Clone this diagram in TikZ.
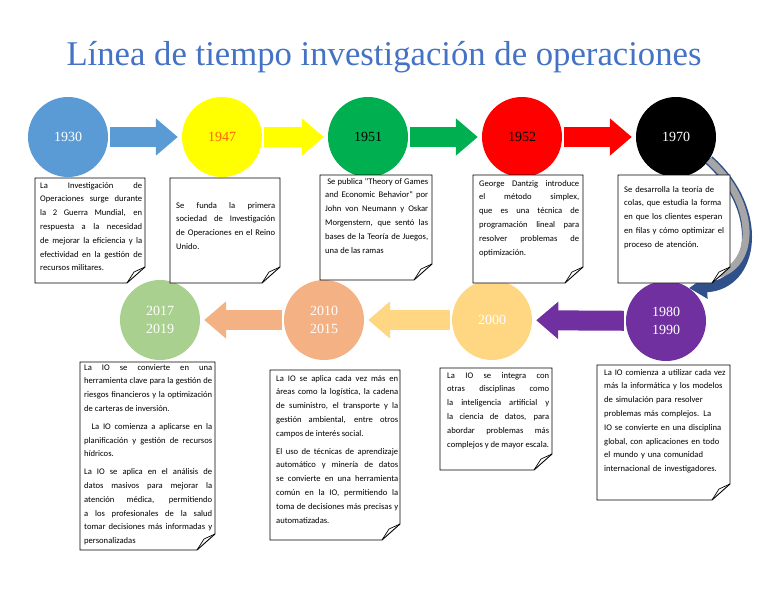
\documentclass[tikz,border=0pt]{standalone}
\usepackage{fontspec}
\setmainfont{Liberation Serif}
\newfontfamily\notefont{Carlito}
\usetikzlibrary{arrows.meta,calc}
\hyphenpenalty=10000
\exhyphenpenalty=10000
\definecolor{cblue}{RGB}{91,155,213}
\definecolor{cyel}{RGB}{255,255,0}
\definecolor{cgreen}{RGB}{0,176,80}
\definecolor{cred}{RGB}{255,0,0}
\definecolor{cpurp}{RGB}{112,48,160}
\definecolor{cpale}{RGB}{255,215,130}
\definecolor{csalm}{RGB}{244,177,131}
\definecolor{clgreen}{RGB}{169,208,142}
\definecolor{ctitle}{RGB}{68,114,196}
\tikzset{
 yr/.style={circle,minimum size=80pt,inner sep=0pt,font=\fontsize{14}{18}\selectfont,align=center},
 blk/.style={line width=20pt,-{Triangle[width=36pt,length=22pt]},shorten <=2pt,shorten >=4pt},
 ntext/.style={anchor=north west,inner sep=0pt,align=justify,font=\notefont\fontsize{8.6}{13.8}\selectfont},
 notebox/.style={draw,line width=0.9pt,fill=white}
}
\newcommand{\notepaper}[5]{% name x1 y1 x2 y2
 \draw[notebox] (#2,#3) -- (#4,#3) -- (#4,#5-16) -- (#4-18,#5) -- (#2,#5) -- cycle;
 \draw[line width=0.7pt] (#4,#5-16) -- (#4-11,#5-11) -- (#4-18,#5);
 \coordinate (#1) at (#2,#3);
}
\begin{document}
\begin{tikzpicture}[x=1pt,y=-1pt]
\useasboundingbox (0,0) rectangle (768,594);
\node[text=ctitle,font=\fontsize{34.7}{38}\selectfont] (title) at (384,57) {Línea de tiempo investigación de operaciones};
% circles
\node[yr,fill=cblue,text=white] (c1) at (68,137) {1930};
\node[yr,fill=cyel,text=orange!80!red] (c2) at (222,137) {1947};
\node[yr,fill=cgreen,text=black] (c3) at (368,137) {1951};
\node[yr,fill=cred,text=black] (c4) at (522,137) {1952};
\node[yr,fill=black,text=white] (c5) at (676,137) {1970};
\node[yr,fill=cpurp,text=white] (c6) at (666,321) {1980\\1990};
\node[yr,fill=cpale,text=white] (c7) at (492,320) {2000};
\node[yr,fill=csalm,text=white] (c8) at (324,320) {2010\\2015};
\node[yr,fill=clgreen,text=white] (c9) at (160,320) {2017\\2019};
% arrows
\draw[blk,cblue] (c1) -- (c2);
\draw[blk,cyel] (c2) -- (c3);
\draw[blk,cgreen] (c3) -- (c4);
\draw[blk,cred] (c4) -- (c5);
\draw[blk,cpurp] (c6) -- (c7);
\draw[blk,cpale] (c7) -- (c8);
\draw[blk,csalm] (c8) -- (c9);
\draw[line width=10pt,color=ctitle!70!black,-{Triangle[width=22pt,length=18pt]}] (c5.-35) .. controls (765,210) and (755,285) .. (c6.55);
\draw[line width=7pt,color=gray!70] (c5.-35) .. controls (765,210) and (755,285) .. ($(c6.55)+(7,-13)$);
% notes
\notepaper{n1}{35}{178}{145}{283}
\node[ntext,text width=102pt] (t1) at (40,182) {La Investigación de Operaciones surge durante la 2 Guerra Mundial, en respuesta a la necesidad de mejorar la eficiencia y la efectividad en la gestión de recursos militares.};
\notepaper{n2}{170}{178}{280}{283}
\node[ntext,text width=99pt] (t2) at (176,202) {Se funda la primera sociedad de Investigación de Operaciones en el Reino Unido.};
\notepaper{n3}{320}{175}{432}{280}
\node[ntext,text width=103pt] (t3) at (325,178) {\ Se publica "Theory of Games and Economic Behavior" por John von Neumann y Oskar Morgenstern, que sentó las bases de la Teoría de Juegos, una de las ramas};
\notepaper{n4}{473}{175}{583}{283}
\node[ntext,text width=100pt] (t4) at (479,180) {George Dantzig introduce el método simplex, que es una técnica de programación lineal para resolver problemas de optimización.};
\notepaper{n5}{618}{175}{730}{283}
\node[ntext,text width=104pt,align=left] (t5) at (624,186) {Se desarrolla la teoría de colas, que estudia la forma en que los clientes esperan en filas y cómo optimizar el proceso de atención.};
\notepaper{n6}{597}{365}{730}{500}
\node[ntext,text width=124pt,align=left] (t6) at (604,369) {La IO comienza a utilizar cada vez más la informática y los modelos de simulación para resolver problemas más complejos. La IO se convierte en una disciplina global, con aplicaciones en todo el mundo y una comunidad internacional de investigadores.};
\notepaper{n7}{440}{368}{552}{470}
\node[ntext,text width=102pt] (t7) at (447,372) {La IO se integra con otras disciplinas como la inteligencia artificial y la ciencia de datos, para abordar problemas más complejos y de mayor escala.};
\notepaper{n8}{270}{370}{400}{540}
\node[ntext,text width=122pt] (t8) at (276,375) {La IO se aplica cada vez más en áreas como la logística, la cadena de suministro, el transporte y la gestión ambiental, entre otros campos de interés social.\par\vspace{4pt}El uso de técnicas de aprendizaje automático y minería de datos se convierte en una herramienta común en la IO, permitiendo la toma de decisiones más precisas y automatizadas.};
\notepaper{n9}{80}{362}{215}{550}
\node[ntext,text width=128pt] (t9) at (84,364) {La IO se convierte en una herramienta clave para la gestión de riesgos financieros y la optimización de carteras de inversión.\par\vspace{4pt}\ \ La IO comienza a aplicarse en la planificación y gestión de recursos hídricos.\par\vspace{4pt}La IO se aplica en el análisis de datos masivos para mejorar la atención médica, permitiendo a los profesionales de la salud tomar decisiones más informadas y personalizadas};
\end{tikzpicture}
\end{document}
